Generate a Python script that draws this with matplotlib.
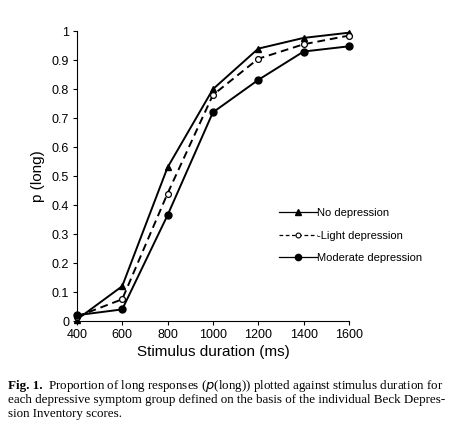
import numpy as np
import matplotlib.pyplot as plt
from matplotlib.lines import Line2D

# Stimulus durations (ms) and p(long) per group
durations = [400, 600, 800, 1000, 1200, 1400, 1600]
no_dep = [0.005, 0.12, 0.53, 0.80, 0.94, 0.977, 0.995]
light_dep = [0.015, 0.075, 0.44, 0.78, 0.905, 0.955, 0.985]
moderate_dep = [0.02, 0.04, 0.365, 0.72, 0.832, 0.93, 0.948]
labels = ['No depression', '-Light depression', 'Moderate depression']
ytick_labels = ['0', '0.1', '0.2', '0.3', '0.4', '0.5', '0.6', '0.7', '0.8', '0.9', '1']

plt.rcParams['font.family'] = ['Liberation Sans', 'DejaVu Sans']

fig = plt.figure(figsize=(4.52, 4.28), dpi=100)
ax = fig.add_axes([0.170, 0.250, 0.602, 0.677])

ax.plot(durations, no_dep, color='black', lw=1.4, marker='^', ms=5, clip_on=False, zorder=3)
ax.plot(durations, light_dep, color='black', lw=1.4, ls=(0, (4, 2.5)), marker='o', ms=4.2,
        mfc='white', mew=0.9, clip_on=False, zorder=3)
ax.plot(durations, moderate_dep, color='black', lw=1.4, marker='o', ms=5, clip_on=False, zorder=3)

ax.set_xlim(400, 1600)
ax.set_ylim(0, 1)
ax.set_xticks(durations)
ax.set_yticks(np.arange(0, 1.01, 0.1))
ax.set_yticklabels(ytick_labels)
ax.tick_params(labelsize=9, length=3, width=0.8, direction='out', pad=2.5)
for side in ['top', 'right']:
    ax.spines[side].set_visible(False)
for side in ['left', 'bottom']:
    ax.spines[side].set_linewidth(0.8)

ax.set_xlabel('Stimulus duration (ms)', fontsize=11, labelpad=3)
ax.set_ylabel('p (long)', fontsize=11, labelpad=5)

handles = [
    Line2D([], [], color='black', lw=0.9, marker='^', ms=4.5),
    Line2D([], [], color='black', lw=0.9, ls=(0, (3, 2)), marker='o', ms=3.5, mfc='white', mew=0.8),
    Line2D([], [], color='black', lw=0.9, marker='o', ms=4.5),
]
ax.legend(handles, labels, loc='upper left', bbox_to_anchor=(0.722, 0.41), frameon=False,
          fontsize=8, handlelength=3.4, handletextpad=0.0, labelspacing=1.15, borderpad=0)

# caption
cap_kw = dict(family='Liberation Serif', fontsize=9.4, va='baseline')
x0, y0, dy = 0.018, 0.091, 0.0327
bold = fig.text(x0, y0, 'Fig. 1.', weight='bold', **cap_kw)
renderer = fig.canvas.get_renderer()
bw = bold.get_window_extent(renderer).width / fig.bbox.width
fig.text(x0 + bw + 0.012, y0, 'Proportion of long responses ($p$(long)) plotted against stimulus duration for',
         **cap_kw)
fig.text(x0, y0 - dy, 'each depressive symptom group defined on the basis of the individual Beck Depres-',
         **cap_kw)
fig.text(x0, y0 - 2 * dy, 'sion Inventory scores.', **cap_kw)

fig.savefig('out.png', dpi=100)
